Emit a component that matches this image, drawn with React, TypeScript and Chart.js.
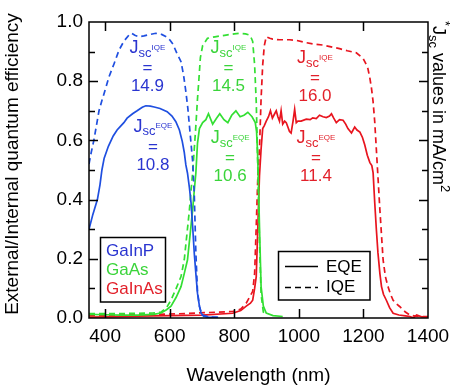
import React, { useEffect, useRef } from 'react';
import { Chart, registerables } from 'chart.js';

Chart.register(...registerables);

// ---------- tick values ----------
const X_TICKS = [400, 600, 800, 1000, 1200, 1400];
const Y_TICKS = [0, 0.1, 0.2, 0.3, 0.4, 0.5, 0.6, 0.7, 0.8, 0.9, 1.0];

// ---------- series data ----------
const gainpEqeWl = [350, 362, 376, 384, 390, 397, 410, 425, 437, 448, 458, 468, 485, 499, 515, 526, 540, 552, 570, 592, 607, 619, 630, 639, 645, 650, 655, 661, 666, 671, 676, 681, 686, 692, 697, 705, 720, 750];
const gainpEqeVal = [0.30, 0.35, 0.40, 0.45, 0.50, 0.54, 0.58, 0.615, 0.635, 0.648, 0.66, 0.675, 0.69, 0.70, 0.712, 0.717, 0.716, 0.713, 0.708, 0.697, 0.682, 0.663, 0.635, 0.596, 0.56, 0.517, 0.49, 0.44, 0.39, 0.31, 0.22, 0.15, 0.084, 0.04, 0.017, 0.006, 0.003, 0.002];

const gainpIqeWl = [350, 357, 365, 373, 381, 390, 400, 412, 428, 443, 458, 474, 482, 492, 505, 520, 540, 557, 575, 590, 600, 610, 622, 635, 643, 650, 656, 661, 666, 671, 676, 681, 686, 692, 700, 720, 750];
const gainpIqeVal = [0.52, 0.56, 0.60, 0.65, 0.70, 0.735, 0.77, 0.815, 0.86, 0.905, 0.935, 0.956, 0.962, 0.955, 0.95, 0.953, 0.958, 0.962, 0.958, 0.95, 0.94, 0.925, 0.895, 0.866, 0.82, 0.765, 0.71, 0.65, 0.59, 0.53, 0.42, 0.22, 0.09, 0.04, 0.01, 0.004, 0.002];

const gaasEqeWl = [350, 400, 450, 500, 550, 573, 590, 604, 620, 635, 645, 655, 663, 671, 676, 681, 686, 692, 702, 712, 720, 733, 745, 755, 768, 780, 792, 805, 818, 830, 842, 855, 865, 869, 872, 875, 878, 883, 890, 899, 920, 950];
const gaasEqeVal = [0.012, 0.011, 0.01, 0.01, 0.012, 0.017, 0.028, 0.04, 0.07, 0.106, 0.15, 0.196, 0.28, 0.365, 0.43, 0.49, 0.59, 0.64, 0.66, 0.67, 0.69, 0.655, 0.675, 0.69, 0.67, 0.66, 0.685, 0.70, 0.68, 0.685, 0.695, 0.68, 0.66, 0.63, 0.56, 0.45, 0.31, 0.106, 0.04, 0.017, 0.008, 0.005];

const gaasIqeWl = [350, 450, 550, 573, 590, 604, 620, 635, 645, 653, 661, 666, 671, 676, 681, 686, 690, 695, 702, 717, 740, 770, 800, 816, 835, 847, 853, 857, 863, 868, 873, 878, 883, 890, 900];
const gaasIqeVal = [0.015, 0.015, 0.017, 0.02, 0.035, 0.06, 0.1, 0.14, 0.196, 0.28, 0.365, 0.43, 0.49, 0.57, 0.65, 0.74, 0.80, 0.88, 0.92, 0.945, 0.95, 0.955, 0.96, 0.962, 0.96, 0.956, 0.945, 0.934, 0.855, 0.73, 0.5, 0.26, 0.08, 0.02, 0.008];

const gainasEqeWl = [350, 400, 500, 600, 700, 795, 820, 837, 850, 857, 863, 868, 873, 878, 883, 888, 893, 899, 906, 912, 918, 925, 930, 935, 940, 945, 950, 956, 961, 966, 971, 976, 982, 987, 992, 997, 1007, 1023, 1035, 1043, 1054, 1064, 1075, 1085, 1095, 1101, 1108, 1116, 1126, 1137, 1145, 1152, 1163, 1173, 1180, 1189, 1197, 1204, 1212, 1220, 1226, 1230, 1235, 1240, 1245, 1251, 1256, 1262, 1271, 1281, 1292, 1310, 1330, 1344, 1355, 1365, 1380, 1400];
const gainasEqeVal = [0.003, 0.004, 0.006, 0.008, 0.01, 0.016, 0.025, 0.04, 0.05, 0.06, 0.1, 0.14, 0.31, 0.48, 0.57, 0.64, 0.65, 0.665, 0.68, 0.70, 0.675, 0.69, 0.70, 0.68, 0.665, 0.70, 0.655, 0.665, 0.66, 0.645, 0.63, 0.625, 0.665, 0.705, 0.66, 0.665, 0.665, 0.672, 0.67, 0.676, 0.674, 0.685, 0.68, 0.677, 0.682, 0.69, 0.675, 0.66, 0.67, 0.668, 0.655, 0.64, 0.625, 0.645, 0.635, 0.628, 0.61, 0.585, 0.55, 0.525, 0.515, 0.49, 0.39, 0.30, 0.22, 0.15, 0.106, 0.08, 0.06, 0.035, 0.016, 0.01, 0.007, 0.005, 0.001, 0.01, 0.004, 0.004];

const gainasIqeWl = [350, 450, 550, 650, 750, 795, 820, 837, 847, 857, 863, 868, 873, 878, 883, 888, 893, 899, 910, 919, 940, 971, 992, 1023, 1050, 1075, 1100, 1126, 1150, 1178, 1199, 1207, 1214, 1220, 1225, 1230, 1235, 1240, 1245, 1251, 1256, 1261, 1268, 1276, 1284, 1292, 1302, 1313, 1330, 1344, 1365, 1385, 1400];
const gainasIqeVal = [0.008, 0.01, 0.012, 0.015, 0.02, 0.022, 0.03, 0.05, 0.07, 0.09, 0.15, 0.31, 0.48, 0.57, 0.74, 0.855, 0.92, 0.95, 0.945, 0.942, 0.94, 0.94, 0.938, 0.93, 0.925, 0.922, 0.916, 0.91, 0.903, 0.896, 0.877, 0.86, 0.842, 0.81, 0.776, 0.73, 0.663, 0.57, 0.477, 0.365, 0.28, 0.196, 0.14, 0.106, 0.08, 0.06, 0.048, 0.038, 0.02, 0.01, 0.006, 0.005, 0.005];

// ---------- labels ----------
const cellNames = ['GaInP', 'GaAs', 'GaInAs'];
const jscIqe = ['14.9', '14.5', '16.0'];
const jscEqe = ['10.8', '10.6', '11.4'];

// ---------- styles / positions ----------
const FONT = '"Liberation Sans", Arial, Helvetica, sans-serif';
const LINE_COLORS = ['#1f4fe0', '#33df33', '#e8141e'];
const TEXT_COLORS = ['#2a35d0', '#3ad43a', '#e2202a'];
// annotation anchors in data units: [centre wavelength, J baseline value]
const IQE_ANCHORS = [[531, 0.894], [782, 0.894], [1050, 0.860]];
const EQE_ANCHORS = [[548, 0.629], [787, 0.590], [1053, 0.590]];

const pts = (wl: number[], v: number[]) => wl.map((w, i) => ({ x: w, y: v[i] }));

function drawJsc(ctx: CanvasRenderingContext2D, cx: number, yb: number, sup: string, value: string, color: string) {
  ctx.fillStyle = color;
  ctx.textBaseline = 'alphabetic';
  ctx.textAlign = 'left';
  const fJ = `18px ${FONT}`, fS = `13px ${FONT}`, fP = `8px ${FONT}`;
  ctx.font = fJ; const wJ = ctx.measureText('J').width;
  ctx.font = fS; const wS = ctx.measureText('sc').width;
  ctx.font = fP; const wP = ctx.measureText(sup).width;
  let x0 = cx - (wJ + wS + wP) / 2;
  ctx.font = fJ; ctx.fillText('J', x0, yb); x0 += wJ;
  ctx.font = fS; ctx.fillText('sc', x0, yb + 3.5); x0 += wS;
  ctx.font = fP; ctx.fillText(sup, x0, yb - 3.5);
  ctx.textAlign = 'center';
  ctx.font = `17px ${FONT}`;
  ctx.fillText('=', cx, yb + 20);
  ctx.fillText(value, cx, yb + 38);
}

const decoPlugin = {
  id: 'deco',
  afterDraw(chart: any) {
    const { ctx, chartArea: a, scales } = chart;
    const xs = scales.x, ys = scales.y;
    ctx.save();
    // frame
    ctx.strokeStyle = '#000';
    ctx.lineWidth = 1.5;
    ctx.strokeRect(a.left, a.top, a.right - a.left, a.bottom - a.top);
    // inward ticks
    ctx.beginPath();
    for (const v of X_TICKS) {
      if (v <= xs.min || v >= xs.max) continue;
      const px = Math.round(xs.getPixelForValue(v)) + 0.5;
      ctx.moveTo(px, a.bottom); ctx.lineTo(px, a.bottom - 9);
      ctx.moveTo(px, a.top); ctx.lineTo(px, a.top + 9);
    }
    for (const v of Y_TICKS) {
      if (v <= ys.min || v >= ys.max) continue;
      const py = Math.round(ys.getPixelForValue(v)) + 0.5;
      const len = Math.round(v * 10) % 2 === 0 ? 9 : 6;
      ctx.moveTo(a.left, py); ctx.lineTo(a.left + len, py);
      ctx.moveTo(a.right, py); ctx.lineTo(a.right - len, py);
    }
    ctx.stroke();

    // axis titles
    ctx.fillStyle = '#000';
    ctx.font = `19px ${FONT}`;
    ctx.textAlign = 'center';
    ctx.textBaseline = 'middle';
    ctx.fillText('Wavelength (nm)', (a.left + a.right) / 2, 376);

    ctx.save();
    ctx.translate(18, 164);
    ctx.rotate(-Math.PI / 2);
    ctx.textBaseline = 'alphabetic';
    ctx.fillText('External/Internal quantum efficiency', 0, 0);
    ctx.restore();

    // right title
    ctx.save();
    ctx.translate(433, 21);
    ctx.rotate(Math.PI / 2);
    ctx.textAlign = 'left';
    ctx.textBaseline = 'alphabetic';
    let tx = 0;
    const piece = (t: string, size: number, dy: number) => {
      ctx.font = `${size}px ${FONT}`;
      ctx.fillText(t, tx, dy);
      tx += ctx.measureText(t).width;
    };
    piece('*', 13, -8);
    piece('J', 18, 0);
    piece('sc', 13, 4);
    piece(' values in mA/cm', 18, 0);
    piece('2', 13, -8);
    ctx.restore();

    // Jsc annotations
    for (let i = 0; i < 3; i++) {
      drawJsc(ctx, xs.getPixelForValue(IQE_ANCHORS[i][0]), ys.getPixelForValue(IQE_ANCHORS[i][1]), 'IQE', jscIqe[i], TEXT_COLORS[i]);
      drawJsc(ctx, xs.getPixelForValue(EQE_ANCHORS[i][0]), ys.getPixelForValue(EQE_ANCHORS[i][1]), 'EQE', jscEqe[i], TEXT_COLORS[i]);
    }

    // legend 1 (cells)
    ctx.lineWidth = 1.5;
    ctx.strokeStyle = '#000';
    ctx.strokeRect(a.left + 11.5, 237.5, 65, 64.5);
    ctx.textAlign = 'left';
    ctx.textBaseline = 'alphabetic';
    ctx.font = `17px ${FONT}`;
    cellNames.forEach((n, i) => {
      ctx.fillStyle = TEXT_COLORS[i];
      ctx.fillText(n, a.left + 17, 256 + i * 19);
    });

    // legend 2 (line styles)
    ctx.strokeRect(278.5, 251.5, 91.5, 48.5);
    ctx.strokeStyle = '#000';
    ctx.lineWidth = 1.5;
    ctx.beginPath();
    ctx.moveTo(285, 266.5); ctx.lineTo(318, 266.5);
    ctx.stroke();
    ctx.setLineDash([6, 4]);
    ctx.beginPath();
    ctx.moveTo(285, 287.5); ctx.lineTo(318, 287.5);
    ctx.stroke();
    ctx.setLineDash([]);
    ctx.fillStyle = '#000';
    ctx.fillText('EQE', 326, 272);
    ctx.fillText('IQE', 326, 292);
    ctx.restore();
  },
};

export default function App() {
  const ref = useRef<HTMLCanvasElement>(null);
  useEffect(() => {
    const ds = (wl: number[], v: number[], color: string, dashed: boolean, label: string) => ({
      label,
      data: pts(wl, v),
      borderColor: color,
      backgroundColor: color,
      borderWidth: 1.7,
      borderDash: dashed ? [6, 4] : [],
      pointRadius: 0,
      tension: 0,
      fill: false,
    });
    const chart = new Chart(ref.current!, {
      type: 'line',
      data: {
        datasets: [
          ds(gainpEqeWl, gainpEqeVal, LINE_COLORS[0], false, 'GaInP EQE'),
          ds(gainpIqeWl, gainpIqeVal, LINE_COLORS[0], true, 'GaInP IQE'),
          ds(gaasEqeWl, gaasEqeVal, LINE_COLORS[1], false, 'GaAs EQE'),
          ds(gaasIqeWl, gaasIqeVal, LINE_COLORS[1], true, 'GaAs IQE'),
          ds(gainasEqeWl, gainasEqeVal, LINE_COLORS[2], false, 'GaInAs EQE'),
          ds(gainasIqeWl, gainasIqeVal, LINE_COLORS[2], true, 'GaInAs IQE'),
        ],
      },
      options: {
        animation: false,
        responsive: true,
        maintainAspectRatio: false,
        layout: { padding: { top: 22, right: 46, left: 0, bottom: 0 } },
        plugins: { legend: { display: false }, tooltip: { enabled: false } },
        scales: {
          x: {
            type: 'linear',
            min: 350,
            max: 1400,
            grid: { display: false, drawTicks: false },
            border: { display: false },
            afterBuildTicks: (s: any) => { s.ticks = X_TICKS.map((v) => ({ value: v })); },
            afterFit: (s: any) => { s.height = 69; },
            ticks: {
              autoSkip: false,
              maxRotation: 0,
              padding: 7,
              color: '#000',
              font: { family: FONT, size: 19 },
              callback: (v: any) => String(v),
            },
          },
          y: {
            type: 'linear',
            min: 0,
            max: 1,
            grid: { display: false, drawTicks: false },
            border: { display: false },
            afterBuildTicks: (s: any) => { s.ticks = Y_TICKS.map((v) => ({ value: v })); },
            afterFit: (s: any) => { s.width = 89; },
            ticks: {
              autoSkip: false,
              padding: 6,
              color: '#000',
              font: { family: FONT, size: 19 },
              callback: (v: any) => (Math.round(Number(v) * 10) % 2 === 0 ? Number(v).toFixed(1) : ''),
            },
          },
        },
      },
      plugins: [decoPlugin],
    } as any);
    return () => chart.destroy();
  }, []);
  return (
    <div style={{ position: 'fixed', left: 0, top: 0, width: 474, height: 387, background: '#fff' }}>
      <canvas ref={ref} />
    </div>
  );
}
